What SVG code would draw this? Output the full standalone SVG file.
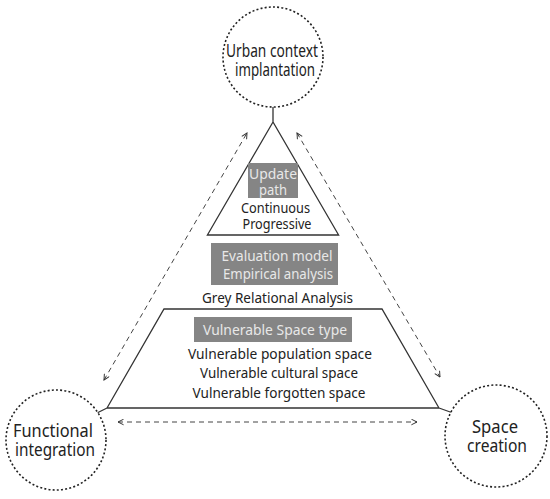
<svg xmlns="http://www.w3.org/2000/svg" width="550" height="499" viewBox="0 0 550 499">
<defs>
<marker id="arr" viewBox="0 0 10 10" refX="9" refY="5" markerWidth="7" markerHeight="7" orient="auto-start-reverse" markerUnits="userSpaceOnUse">
<path d="M1,1 L9,5 L1,9" fill="none" stroke="#333" stroke-width="1.4"/>
</marker>
<style>
.solid{fill:none;stroke:#333;stroke-width:1.3}
.dash{fill:none;stroke:#444;stroke-width:1;stroke-dasharray:5 4}
.dot{fill:#fff;stroke:#222;stroke-width:1.6;stroke-dasharray:2 2.2}
.t{font-family:"Noto Sans","Open Sans",sans-serif;font-size:15px;fill:#222;text-anchor:middle}
.big{font-size:18.5px}
.w{fill:#e8e8e8}
.box{fill:#858585}
</style>
</defs>
<rect width="550" height="499" fill="#fff"/>
<g id="pyramid">
<path class="solid" d="M273,107 L273,122 M273,122 L207.4,235 L338.6,235 Z M164,309 L382,309 L439,408 L107,408 Z M107,408 L97,413 M439,408 L453,413"/>
</g>
<g id="connectors">
<line class="dash" x1="104" y1="380" x2="247" y2="133" marker-start="url(#arr)" marker-end="url(#arr)"/>
<line class="dash" x1="297" y1="133" x2="440" y2="377" marker-start="url(#arr)" marker-end="url(#arr)"/>
<line class="dash" x1="118" y1="422" x2="417" y2="422" marker-start="url(#arr)" marker-end="url(#arr)"/>
</g>
<g id="node-urban">
<circle class="dot" cx="273" cy="57" r="50"/>
<text class="t big" x="272" y="57" textLength="92" lengthAdjust="spacingAndGlyphs">Urban context</text>
<text class="t big" x="275" y="76" textLength="80" lengthAdjust="spacingAndGlyphs">implantation</text>
</g>
<g id="node-functional">
<circle class="dot" cx="56" cy="440" r="50"/>
<text class="t big" x="53" y="437" textLength="80" lengthAdjust="spacingAndGlyphs">Functional</text>
<text class="t big" x="55" y="456" textLength="80" lengthAdjust="spacingAndGlyphs">integration</text>
</g>
<g id="node-space">
<circle class="dot" cx="496" cy="436" r="51"/>
<text class="t big" x="495" y="433" textLength="46" lengthAdjust="spacingAndGlyphs">Space</text>
<text class="t big" x="497" y="452" textLength="60" lengthAdjust="spacingAndGlyphs">creation</text>
</g>
<g id="node-update">
<rect class="box" x="248" y="163" width="50" height="35"/>
<text class="t w" x="273" y="179" textLength="48" lengthAdjust="spacingAndGlyphs">Update</text>
<text class="t w" x="273" y="195" textLength="28" lengthAdjust="spacingAndGlyphs">path</text>
<text class="t" x="275.5" y="213" textLength="69" lengthAdjust="spacingAndGlyphs">Continuous</text>
<text class="t" x="277" y="229" textLength="69" lengthAdjust="spacingAndGlyphs">Progressive</text>
</g>
<g id="node-evaluation">
<rect class="box" x="211" y="243" width="127" height="42"/>
<text class="t w" x="277" y="261" textLength="111" lengthAdjust="spacingAndGlyphs">Evaluation model</text>
<text class="t w" x="278" y="279" textLength="110" lengthAdjust="spacingAndGlyphs">Empirical analysis</text>
<text class="t" x="277.5" y="303" textLength="151" lengthAdjust="spacingAndGlyphs">Grey Relational Analysis</text>
</g>
<g id="node-vulnerable">
<rect class="box" x="194" y="317" width="158" height="25"/>
<text class="t w" x="275" y="335" textLength="144" lengthAdjust="spacingAndGlyphs">Vulnerable Space type</text>
<text class="t" x="280" y="359" textLength="184" lengthAdjust="spacingAndGlyphs">Vulnerable population space</text>
<text class="t" x="279" y="378" textLength="158" lengthAdjust="spacingAndGlyphs">Vulnerable cultural space</text>
<text class="t" x="279" y="398" textLength="173" lengthAdjust="spacingAndGlyphs">Vulnerable forgotten space</text>
</g>
</svg>
